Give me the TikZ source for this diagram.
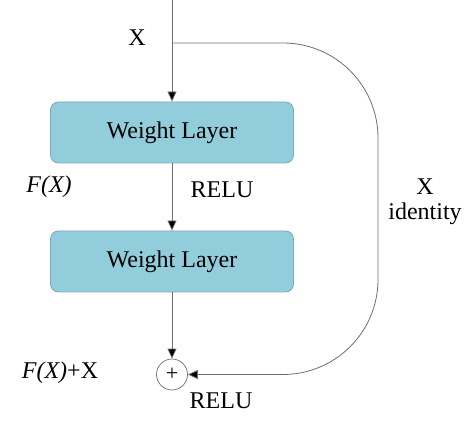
\documentclass[tikz,border=0pt]{standalone}
\usepackage{fontspec}
\setmainfont{Liberation Serif}
\usetikzlibrary{positioning, arrows.meta}

\definecolor{layerfill}{HTML}{92CDDC}
\definecolor{layerline}{HTML}{7FA9B8}
\definecolor{wire}{HTML}{6E6E6E}

\begin{document}
\begin{tikzpicture}[x=1pt,y=1pt,node distance=2cm,on grid,
    font=\fontsize{24}{28}\selectfont,
    layer/.style={draw=layerline,fill=layerfill,rounded corners=8pt,
                  minimum width=243pt,minimum height=61pt,line width=0.8pt},
    adder/.style={circle,draw=wire,minimum size=31pt,inner sep=0pt,line width=0.7pt},
    link/.style={draw=wire,line width=0.8pt,-{Triangle[length=10pt,width=9pt,fill=black]}}]

   \useasboundingbox (0,0) rectangle (474,-427);

   \coordinate (in) at (172,0);
   \coordinate (split) at (172,-43);
   \node[layer] (w1) at (172,-132.5) {Weight Layer};
   \node[layer] (w2) [below=129pt of w1] {Weight Layer};
   \node[adder] (sum) [below=113pt of w2] {\fontsize{22}{24}\selectfont +};

   % skip connection corners
   \coordinate (skiptop) at (378,-43);
   \coordinate (skipbot) at (378,-374.5);

   \path[link]
   (in) -- (w1.north);
   \path[link] (w1.south) -- (w2.north);
   \path[link] (w2.south) -- (sum.north);
   \path[link,rounded corners=95pt] (split) -- (skiptop) -- (skipbot) -- (sum.east);

   % labels
   \node (xin) at (137,-38) {X};
   \node (fx) at (49,-187) {\textit{F(X)}};
   \node (relu1) at (222,-190) {RELU};
   \node (xid) at (425,-187) {X};
   \node (ident) at (425,-214) {identity};
   \node (fxx) at (60,-373) {\textit{F(X)}+X};
   \node (relu2) at (221,-401) {RELU};

\end{tikzpicture}
\end{document}
